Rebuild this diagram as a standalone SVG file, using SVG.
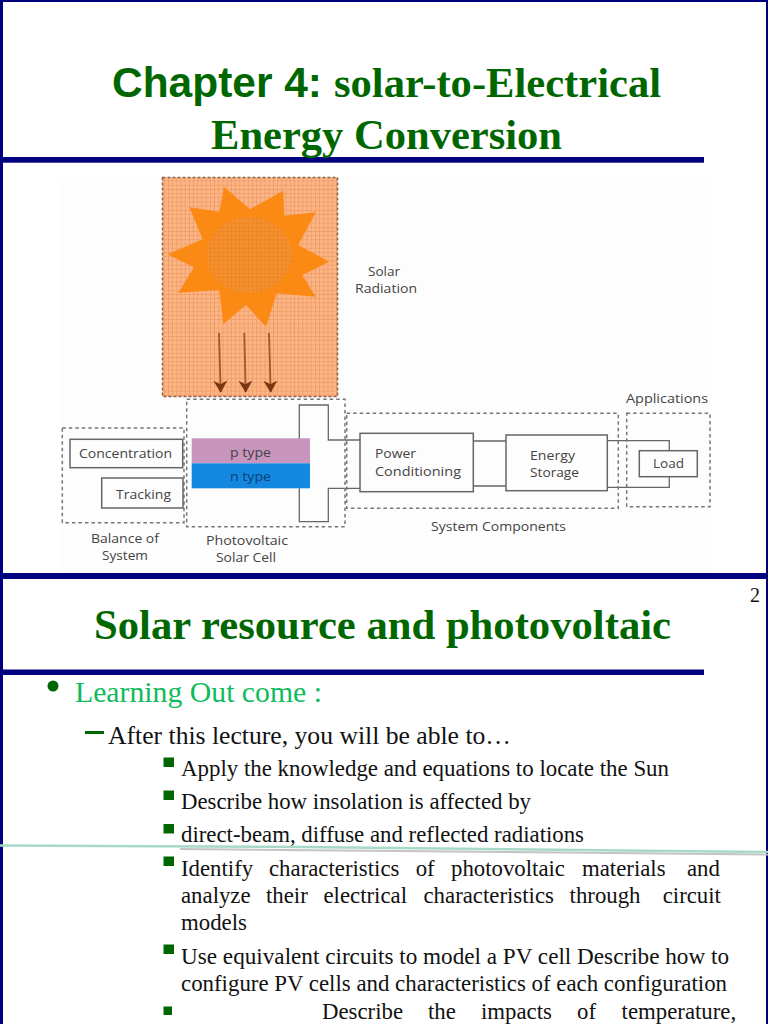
<svg xmlns="http://www.w3.org/2000/svg" width="768" height="1024" viewBox="0 0 768 1024">
<style>
.t{font-family:"Liberation Serif",serif}
.s{font-family:"Liberation Sans",sans-serif}
.title{font-weight:bold;fill:#006600}
.b{font-size:22.8px;fill:#111}
.lab{font-family:"Open Sans",sans-serif;font-size:13.5px;fill:#444}
.box{fill:#fdfdfd;stroke:#666;stroke-width:1.5}
.dash{fill:none;stroke:#777;stroke-width:1.5;stroke-dasharray:3.5 3}
.wire{fill:none;stroke:#666;stroke-width:1.3}
.bar{fill:#00007f}
.sq{fill:#006600}
</style>
<defs>
<pattern id="grid" width="4.2" height="4.2" patternUnits="userSpaceOnUse">
<rect width="4.2" height="4.2" fill="#fcb584"/>
<path d="M0 0H4.2M0 0V4.2" stroke="#e68a52" stroke-width="0.9" fill="none"/>
</pattern>
<pattern id="gridover" width="4.2" height="4.2" patternUnits="userSpaceOnUse">
<path d="M0 0H4.2M0 0V4.2" stroke="#e87a1a" stroke-width="0.8" fill="none"/>
</pattern>
<marker id="ah" markerWidth="16" markerHeight="14" refX="14" refY="8" orient="auto" markerUnits="userSpaceOnUse" viewBox="0 0 16 16"><path d="M1 0L15 8L1 16L5 8Z" fill="#7a3512"/></marker>
</defs>
<rect width="768" height="1024" fill="#fff"/>
<g id="frame">
<rect class="bar" x="0" y="0" width="768" height="2"/>
<rect class="bar" x="0" y="0" width="3" height="1024"/>
<rect class="bar" x="766" y="0" width="2" height="1024"/>
<rect class="bar" x="0" y="573" width="768" height="6"/>
<rect class="bar" x="0" y="157" width="704" height="5.700"/>
<rect class="bar" x="0" y="669.500" width="704" height="5.500"/>
</g>
<g id="title1">
<text class="title s" x="112" y="97" font-size="42.5" textLength="210" lengthAdjust="spacingAndGlyphs">Chapter 4:</text>
<text class="title t" x="334" y="97" font-size="42.6" textLength="327" lengthAdjust="spacingAndGlyphs">solar-to-Electrical</text>
<text class="title t" x="211" y="149" font-size="42.6" textLength="351" lengthAdjust="spacingAndGlyphs">Energy Conversion</text>
</g>
<rect x="62" y="177" width="650" height="396" fill="#fdfdfd"/>
<g id="radiation">
<rect x="162.500" y="177.500" width="175" height="219" fill="url(#grid)" stroke="#8f6248" stroke-width="1.5" stroke-dasharray="3 2"/>
<polygon fill="#fb8a15" points="224,186.700 250,209.300 283.300,190.700 284.300,215.700 315.700,212.300 298.300,245 329.300,261.700 302.300,275 315.700,296.700 276.700,293.300 266,326.700 246,305 223.300,324 219.300,290 178.300,292.700 194,267.300 167.300,254.300 202.700,239.300 189.300,207.300 219.300,211.700"/>
<ellipse cx="249.300" cy="255" rx="42.700" ry="38" fill="#f4902e"/>
<ellipse cx="249.300" cy="255" rx="42.700" ry="38" fill="url(#gridover)"/>
<text class="lab" x="368" y="276" textLength="32" lengthAdjust="spacingAndGlyphs">Solar</text>
<text class="lab" x="355" y="293" textLength="62" lengthAdjust="spacingAndGlyphs">Radiation</text>
</g>
<g id="connectors">
<g fill="none" stroke="#a5562a" stroke-width="1.8" marker-end="url(#ah)">
<line x1="219" y1="333" x2="220.700" y2="392"/>
<line x1="244.300" y1="333" x2="245.700" y2="392"/>
<line x1="269" y1="333" x2="270.700" y2="392"/>
</g>
<path class="wire" d="M299.300 440V405H328.300V440H360M299.300 488.300V521.700H328.300V488.300H360"/>
<path class="wire" d="M473 441H506M473 486H506M607 440.700H669.300V451M607 487.300H669.300V477"/>
</g>
<g id="balance">
<rect class="dash" x="62.300" y="428" width="121.700" height="94.700"/>
<rect class="box" x="70" y="439.300" width="112.700" height="28.400"/>
<text class="lab" x="79" y="458" textLength="93" lengthAdjust="spacingAndGlyphs">Concentration</text>
<path class="box" d="M183 478H101.700V508H183Z"/>
<text class="lab" x="116" y="499" textLength="55" lengthAdjust="spacingAndGlyphs">Tracking</text>
<text class="lab" x="91" y="543" textLength="68" lengthAdjust="spacingAndGlyphs">Balance of</text>
<text class="lab" x="102" y="560" textLength="46" lengthAdjust="spacingAndGlyphs">System</text>
</g>
<g id="cell">
<rect class="dash" x="186.700" y="399.300" width="158.300" height="127.400"/>
<rect x="191.700" y="438.300" width="118.300" height="25" fill="#c795bd"/>
<rect x="191.700" y="463.300" width="118.300" height="25" fill="#1388de"/>
<text class="lab" x="230" y="456.700" textLength="41" lengthAdjust="spacingAndGlyphs">p type</text>
<text class="lab" x="230" y="480.700" textLength="41" lengthAdjust="spacingAndGlyphs" style="fill:#0b3f78">n type</text>
<text class="lab" x="206" y="545" textLength="82" lengthAdjust="spacingAndGlyphs">Photovoltaic</text>
<text class="lab" x="216" y="561.700" textLength="60" lengthAdjust="spacingAndGlyphs">Solar Cell</text>
</g>
<g id="system">
<rect class="dash" x="346.700" y="413.300" width="271.600" height="95"/>
<rect class="box" x="360" y="433.300" width="113.300" height="58.400"/>
<text class="lab" x="375" y="458" textLength="41" lengthAdjust="spacingAndGlyphs">Power</text>
<text class="lab" x="375" y="476" textLength="86" lengthAdjust="spacingAndGlyphs">Conditioning</text>
<rect class="box" x="506" y="435" width="101.300" height="55.700"/>
<text class="lab" x="530" y="460" textLength="45" lengthAdjust="spacingAndGlyphs">Energy</text>
<text class="lab" x="530" y="476.700" textLength="49" lengthAdjust="spacingAndGlyphs">Storage</text>
<text class="lab" x="431" y="530.700" textLength="135" lengthAdjust="spacingAndGlyphs">System Components</text>
</g>
<g id="apps">
<rect class="dash" x="626.700" y="413.300" width="83.300" height="93.400"/>
<rect class="box" x="639.300" y="450.700" width="58" height="26"/>
<text class="lab" x="653" y="468" textLength="31" lengthAdjust="spacingAndGlyphs">Load</text>
<text class="lab" x="626" y="403" textLength="82" lengthAdjust="spacingAndGlyphs">Applications</text>
</g>
<g id="title2">
<text class="title t" x="94" y="639" font-size="42.6" textLength="577" lengthAdjust="spacingAndGlyphs">Solar resource and photovoltaic</text>
<text class="t" x="750" y="602" font-size="20" fill="#111">2</text>
</g>
<g id="outcomes">
<circle class="sq" cx="53" cy="686" r="5.500"/>
<text class="t" x="75" y="702" font-size="29.700" fill="#0fbb5c" textLength="247" lengthAdjust="spacingAndGlyphs">Learning Out come :</text>
<rect class="sq" x="85" y="731" width="19" height="3"/>
<text class="t" x="108" y="744" font-size="25.600" fill="#111" textLength="403" lengthAdjust="spacingAndGlyphs">After this lecture, you will be able to…</text>
<rect class="sq" x="163.500" y="757.500" width="10.500" height="9.500"/>
<text class="t b" x="181" y="776" textLength="488" lengthAdjust="spacingAndGlyphs">Apply the knowledge and equations to locate the Sun</text>
<rect class="sq" x="163.500" y="790.500" width="10.500" height="9.500"/>
<text class="t b" x="181" y="808.500" textLength="350" lengthAdjust="spacingAndGlyphs">Describe how insolation is affected by</text>
<rect class="sq" x="163.500" y="824" width="10.500" height="9.500"/>
<text class="t b" x="181" y="842" textLength="403" lengthAdjust="spacingAndGlyphs">direct-beam, diffuse and reflected radiations</text>
<rect class="sq" x="163.500" y="856.500" width="10.500" height="9.500"/>
<text class="t b" y="876"><tspan x="181">Identify</tspan><tspan x="269">characteristics</tspan><tspan x="415.700">of</tspan><tspan x="451">photovoltaic</tspan><tspan x="582">materials</tspan><tspan x="687">and</tspan></text>
<text class="t b" y="903"><tspan x="181">analyze</tspan><tspan x="266">their</tspan><tspan x="323.500">electrical</tspan><tspan x="423.500">characteristics</tspan><tspan x="569.600">through</tspan><tspan x="662.700">circuit</tspan></text>
<text class="t b" x="181" y="930">models</text>
<rect class="sq" x="163.500" y="944.500" width="10.500" height="9.500"/>
<text class="t b" x="181" y="964" textLength="548" lengthAdjust="spacingAndGlyphs">Use equivalent circuits to model a PV cell Describe how to</text>
<text class="t b" x="181" y="991" textLength="546" lengthAdjust="spacingAndGlyphs">configure PV cells and characteristics of each configuration</text>
<rect class="sq" x="163.500" y="1006.500" width="8.500" height="8.500"/>
<text class="t b" y="1019"><tspan x="322">Describe</tspan><tspan x="428">the</tspan><tspan x="481">impacts</tspan><tspan x="577">of</tspan><tspan x="621.600">temperature,</tspan></text>
</g>
<g id="fold">
<path d="M180 849L768 854.500" stroke="#c4c4c4" stroke-width="2" fill="none"/>
<path d="M0 845.500L300 847L768 852" stroke="#a8d8c8" stroke-width="2.500" fill="none"/>
</g>
</svg>
